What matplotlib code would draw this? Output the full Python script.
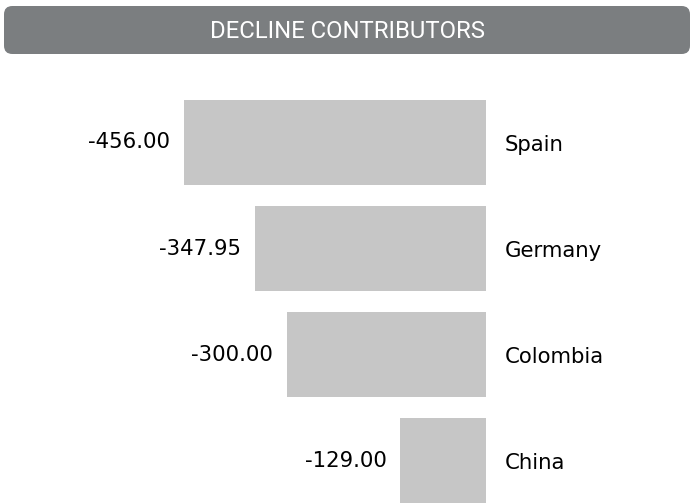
import matplotlib
matplotlib.use('Agg')
import matplotlib.pyplot as plt
from matplotlib.patches import FancyBboxPatch

countries = ['Spain', 'Germany', 'Colombia', 'China']
values = [-456.00, -347.95, -300.00, -129.00]
title = 'DECLINE CONTRIBUTORS'

bar_color = '#c6c6c6'
header_color = '#7b7e80'

W, H = 696, 504
fig = plt.figure(figsize=(W / 100, H / 100), dpi=100)
fig.patch.set_facecolor('white')

# header strip with rounded corners
header = FancyBboxPatch((4 / W, 1 - 54 / H), 686 / W, 48 / H,
                        boxstyle='round,pad=0,rounding_size=0.012',
                        transform=fig.transFigure, facecolor=header_color,
                        edgecolor='none', mutation_aspect=W / H)
fig.patches.append(header)
fig.text(347 / W, 1 - 31 / H, title, color='white', fontsize=17.2,
         family='Roboto', ha='center', va='center')

ax = fig.add_axes([0, 0, 1, 1])
ax.set_axis_off()
ypos = list(range(len(countries)))
ax.barh(ypos, values, height=0.8, color=bar_color, align='center')
ax.set_xlim(-733, 316.7)
ax.set_ylim(3.410, -1.344)

for y, v, name in zip(ypos, values, countries):
    ax.text(v - 21, y + 0.0, f'{v:.2f}', ha='right', va='center',
            fontsize=15.3, color='black')
    ax.text(28.7, y + 0.02, name, ha='left', va='center',
            fontsize=15.3, color='black')

fig.savefig('out.png', dpi=100)
